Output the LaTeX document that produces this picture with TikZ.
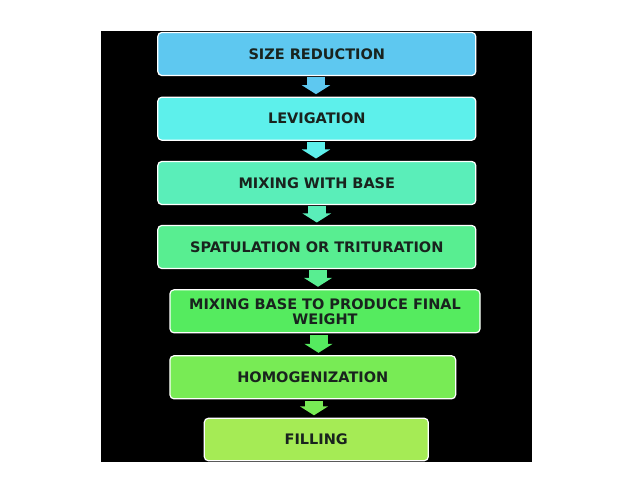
\documentclass[tikz,border=0pt]{standalone}
\usepackage{fontspec}
\setmainfont{DejaVu Sans}
\usetikzlibrary{arrows.meta,calc}
\definecolor{cA}{RGB}{94,200,240}
\definecolor{cB}{RGB}{93,240,235}
\definecolor{cC}{RGB}{90,238,185}
\definecolor{cD}{RGB}{88,238,145}
\definecolor{cE}{RGB}{85,235,95}
\definecolor{cF}{RGB}{120,235,85}
\definecolor{cG}{RGB}{165,235,85}
\definecolor{txt}{RGB}{25,35,30}
\begin{document}
\begin{tikzpicture}[x=1pt,y=1pt,
  stepbox/.style={draw=white,line width=1.2pt,rounded corners=4pt,minimum height=43pt,
    inner sep=0pt,outer sep=0pt,font=\fontsize{14.5}{15}\selectfont\bfseries,text=txt,align=center},
  blockarrow/.style={line width=18pt,-{Triangle[width=28pt,length=9pt]}}]
\useasboundingbox (0,0) rectangle (638,-478);
\fill[white] (0,0) rectangle (638,-478);
\fill[black] (101,-31) rectangle (532,-462);
\node[stepbox,fill=cA,minimum width=318pt] (b1) at (316.8,-54) {SIZE REDUCTION};
\node[stepbox,fill=cB,minimum width=318pt] (b2) at (316.8,-118.7) {LEVIGATION};
\node[stepbox,fill=cC,minimum width=318pt] (b3) at (316.8,-183) {MIXING WITH BASE};
\node[stepbox,fill=cD,minimum width=318pt] (b4) at (316.8,-247) {SPATULATION OR TRITURATION};
\node[stepbox,fill=cE,minimum width=310pt] (b5) at (325,-311.3) {MIXING BASE TO PRODUCE FINAL\\WEIGHT};
\node[stepbox,fill=cF,minimum width=285.7pt] (b6) at (312.8,-377.3) {HOMOGENIZATION};
\node[stepbox,fill=cG,minimum width=224pt,minimum height=42.4pt] (b7) at (316.3,-439.5) {FILLING};
\draw[blockarrow,cA] ($(b1.south)+(-0.8,-2)$) -- ($(b1.south |- b2.north)+(-0.8,3)$);
\draw[blockarrow,cB] ($(b2.south)+(-0.8,-2)$) -- ($(b2.south |- b3.north)+(-0.8,3)$);
\draw[blockarrow,cC] ($(b3.south)+(0,-2)$) -- ($(b3.south |- b4.north)+(0,3)$);
\draw[blockarrow,cD] ($(b4.south)+(1.2,-2)$) -- ($(b4.south |- b5.north)+(1.2,3)$);
\draw[blockarrow,cE] ($(b5.south)+(-6.5,-2)$) -- ($(b5.south |- b6.north)+(-6.5,3)$);
\draw[blockarrow,cF] ($(b6.south)+(1.2,-2)$) -- ($(b6.south |- b7.north)+(1.2,3)$);
\end{tikzpicture}
\end{document}
